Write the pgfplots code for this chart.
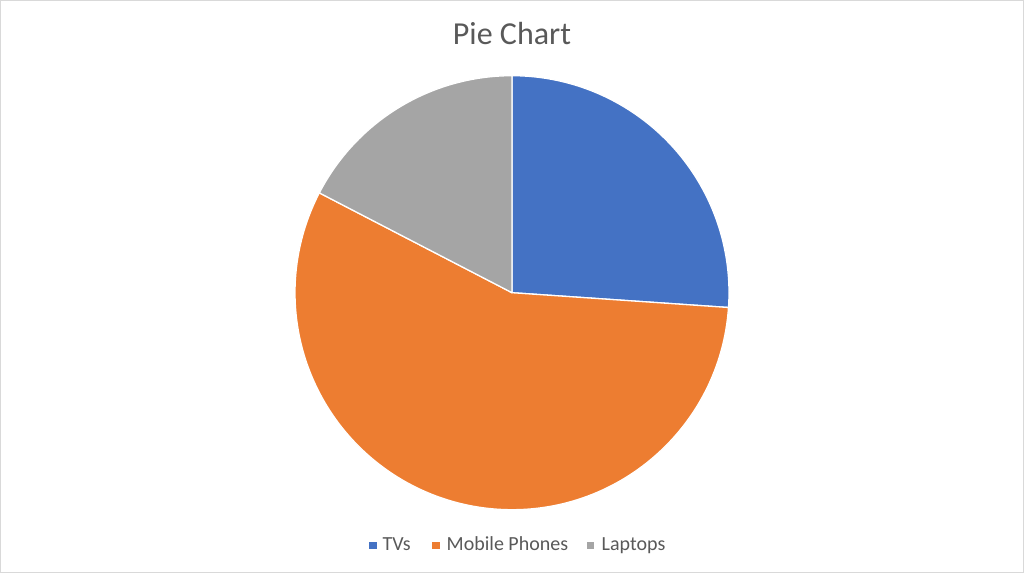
\documentclass[border=0pt]{standalone}
\usepackage{fontspec}
\setmainfont{Carlito}
\usepackage{pgfplots}
\usepackage{pgfplotstable}
\pgfplotsset{compat=1.18}
\definecolor{cTV}{HTML}{4472C4}
\definecolor{cMP}{HTML}{ED7D31}
\definecolor{cLP}{HTML}{A5A5A5}
\definecolor{cTxt}{HTML}{595959}
\definecolor{cBrd}{HTML}{D9D9D9}
\pgfplotstableread{
label value
TVs 30
Mobile 65
Laptops 20
}\piedata
\begin{document}
\begin{tikzpicture}
\pgfplotstablegetelem{0}{value}\of\piedata \pgfmathsetmacro\vA{\pgfplotsretval}
\pgfplotstablegetelem{1}{value}\of\piedata \pgfmathsetmacro\vB{\pgfplotsretval}
\pgfplotstablegetelem{2}{value}\of\piedata \pgfmathsetmacro\vC{\pgfplotsretval}
\pgfmathsetmacro\total{\vA+\vB+\vC}
\pgfmathsetmacro\aA{90-360*(\vA/\total)}
\pgfmathsetmacro\aB{\aA-360*(\vB/\total)}
\begin{axis}[width=1024bp,height=574bp,scale only axis,hide axis,
  xmin=0,xmax=1024,ymin=0,ymax=574,clip=false]
\path (axis cs:0,0) rectangle (axis cs:1024,574);
\draw[cBrd, line width=1bp] (axis cs:0.8,1.5) rectangle (axis cs:1023.2,573.2);
\filldraw[fill=cTV, draw=white, line width=1.3bp, line join=round]
  (axis cs:512,281.3) -- ++(90:217bp) arc[start angle=90,end angle=\aA,radius=217bp] -- cycle;
\filldraw[fill=cMP, draw=white, line width=1.3bp, line join=round]
  (axis cs:512,281.3) -- ++(\aA:217bp) arc[start angle=\aA,end angle=\aB,radius=217bp] -- cycle;
\filldraw[fill=cLP, draw=white, line width=1.3bp, line join=round]
  (axis cs:512,281.3) -- ++(\aB:217bp) arc[start angle=\aB,end angle=-270,radius=217bp] -- cycle;
\node[anchor=base, inner sep=0, text=cTxt, font=\fontsize{32bp}{38bp}\selectfont]
  at (axis cs:512,529) {Pie Chart};
\fill[cTV] (axis cs:369,25) rectangle (axis cs:376.5,32.5);
\fill[cMP] (axis cs:432,25) rectangle (axis cs:439.5,32.5);
\fill[cLP] (axis cs:586.5,25) rectangle (axis cs:594,32.5);
\node[anchor=base west, inner sep=0, text=cTxt, font=\fontsize{20bp}{24bp}\selectfont]
  at (axis cs:382.5,24) {TVs};
\node[anchor=base west, inner sep=0, text=cTxt, font=\fontsize{20bp}{24bp}\selectfont]
  at (axis cs:446.5,24) {Mobile Phones};
\node[anchor=base west, inner sep=0, text=cTxt, font=\fontsize{20bp}{24bp}\selectfont]
  at (axis cs:601.5,24) {Laptops};
\end{axis}
\end{tikzpicture}
\end{document}
